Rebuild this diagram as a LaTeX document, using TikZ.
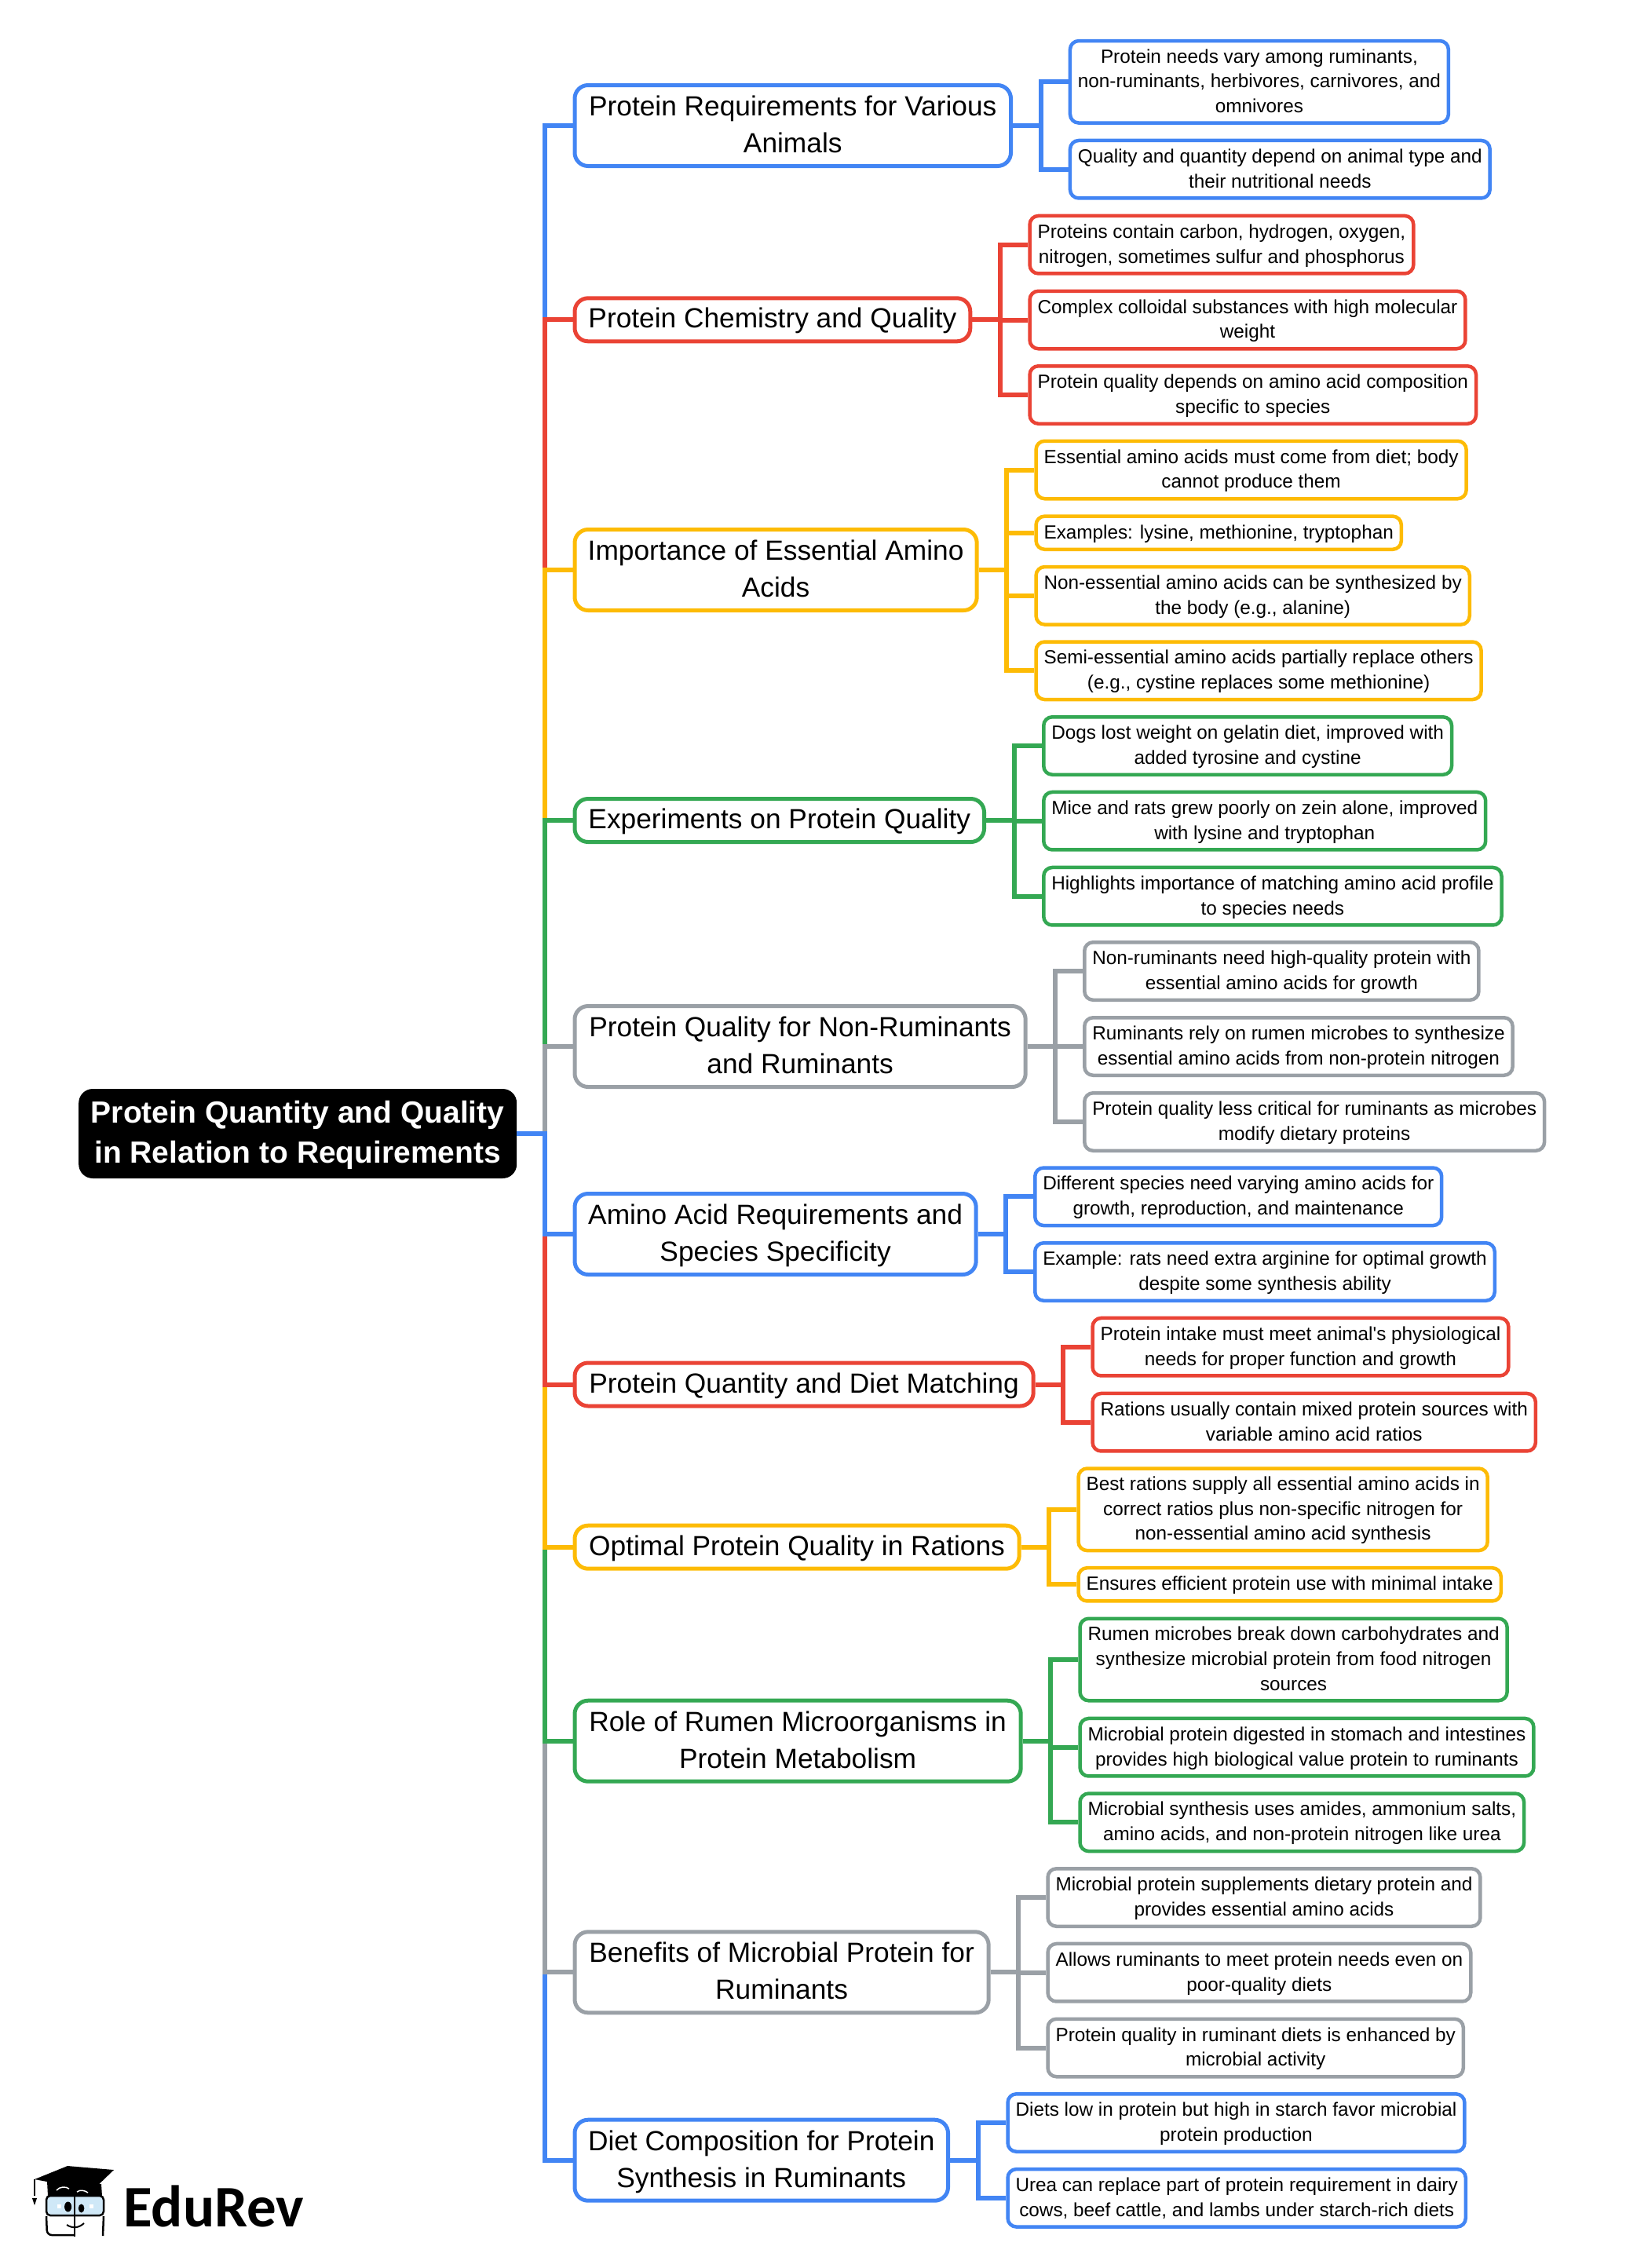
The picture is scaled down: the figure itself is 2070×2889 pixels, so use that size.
\documentclass[tikz,border=0pt]{standalone}
\usepackage{fontspec}
\setmainfont{Liberation Sans}
\newfontfamily\logofont{Carlito}
\definecolor{mapblue}{HTML}{4285F4}
\definecolor{mapred}{HTML}{EA4335}
\definecolor{mapyellow}{HTML}{FDBB05}
\definecolor{mapgreen}{HTML}{34A853}
\definecolor{mapgray}{HTML}{9AA0A6}
\definecolor{lensblue}{HTML}{CFE8F7}
\tikzset{
	rootbox/.style={fill=black, text=white, rounded corners=18pt, anchor=west, align=center, minimum width=558pt, minimum height=114pt, text height=82pt, text depth=8pt, font=\fontsize{39}{51}\selectfont\bfseries},
	branchbox/.style={draw=#1, fill=white, line width=5pt, rounded corners=17pt, anchor=west, align=center, inner xsep=10pt, minimum height=103pt, text height=77pt, text depth=8pt, font=\fontsize{35.3}{47}\selectfont},
	branchone/.style={minimum height=55pt, text height=29pt},
	leafbox/.style={draw=#1, fill=white, line width=4.5pt, rounded corners=11pt, anchor=west, align=center, inner xsep=10pt, minimum height=73.5pt, text height=51.8pt, text depth=5.2pt, font=\fontsize{24.3}{31.7}\selectfont},
	leafone/.style={minimum height=42.2pt, text height=20.1pt},
	leafthree/.style={minimum height=104.5pt, text height=83.5pt},
	link/.style={draw=#1, line width=6pt}
}
\begin{document}
\begin{tikzpicture}[x=1pt, y=-1pt]
		\useasboundingbox (0,0) rectangle (2070,2889);

		% Root
		\node[rootbox] (root) at (100,1444) {Protein Quantity and Quality\\in Relation to Requirements};

		% Branches
		\node[branchbox=mapblue, minimum width=555.5pt] (needs) at (729.5,160) {Protein Requirements for Various\\Animals};
		\node[branchbox=mapred, branchone, minimum width=503.8pt] (chemistry) at (729.5,407.3) {Protein Chemistry and Quality};
		\node[branchbox=mapyellow, minimum width=512.2pt] (essential) at (729.5,726) {Importance of Essential Amino\\Acids};
		\node[branchbox=mapgreen, branchone, minimum width=521.5pt] (experiments) at (729.5,1045) {Experiments on Protein Quality};
		\node[branchbox=mapgray, minimum width=574.2pt] (ruminants) at (729.5,1333) {Protein Quality for Non-Ruminants\\and Ruminants};
		\node[branchbox=mapblue, minimum width=511.2pt] (species) at (729.5,1572) {Amino Acid Requirements and\\Species Specificity};
		\node[branchbox=mapred, branchone, minimum width=584.2pt] (matching) at (729.5,1763.5) {Protein Quantity and Diet Matching};
		\node[branchbox=mapyellow, branchone, minimum width=566.2pt] (rations) at (729.5,1970.7) {Optimal Protein Quality in Rations};
		\node[branchbox=mapgreen, minimum width=568.2pt] (rumen) at (729.5,2217.7) {Role of Rumen Microorganisms in\\Protein Metabolism};
		\node[branchbox=mapgray, minimum width=527.2pt] (benefits) at (729.5,2512.3) {Benefits of Microbial Protein for\\Ruminants};
		\node[branchbox=mapblue, minimum width=475.5pt] (diet) at (729.5,2751.7) {Diet Composition for Protein\\Synthesis in Ruminants};

		% Leaves of the first branch
		\node[leafbox=mapblue, leafthree] (needs_a) at (1360.7,104.3) {Protein needs vary among ruminants,\\non-ruminants, herbivores, carnivores, and\\omnivores};
		\node[leafbox=mapblue] (needs_b) at (1360.7,215.7) {Quality and quantity depend on animal type and\\their nutritional needs};

		% Leaves of the second branch
		\node[leafbox=mapred] (chemistry_a) at (1309.3,311.7) {Proteins contain carbon, hydrogen, oxygen,\\nitrogen, sometimes sulfur and phosphorus};
		\node[leafbox=mapred] (chemistry_b) at (1309.3,407.5) {Complex colloidal substances with high molecular\\weight};
		\node[leafbox=mapred] (chemistry_c) at (1309.3,503) {Protein quality depends on amino acid composition\\specific to species};

		% Leaves of the third branch
		\node[leafbox=mapyellow] (essential_a) at (1317.3,598.5) {Essential amino acids must come from diet; body\\cannot produce them};
		\node[leafbox=mapyellow, leafone] (essential_b) at (1317.3,678.7) {Examples: lysine, methionine, tryptophan};
		\node[leafbox=mapyellow] (essential_c) at (1317.3,758.8) {Non-essential amino acids can be synthesized by\\the body (e.g., alanine)};
		\node[leafbox=mapyellow] (essential_d) at (1317.3,854.3) {Semi-essential amino acids partially replace others\\(e.g., cystine replaces some methionine)};

		% Leaves of the fourth branch
		\node[leafbox=mapgreen] (experiments_a) at (1327,950) {Dogs lost weight on gelatin diet, improved with\\added tyrosine and cystine};
		\node[leafbox=mapgreen] (experiments_b) at (1327,1045.7) {Mice and rats grew poorly on zein alone, improved\\with lysine and tryptophan};
		\node[leafbox=mapgreen] (experiments_c) at (1327,1141.7) {Highlights importance of matching amino acid profile\\to species needs};

		% Leaves of the fifth branch
		\node[leafbox=mapgray] (ruminants_a) at (1379,1237) {Non-ruminants need high-quality protein with\\essential amino acids for growth};
		\node[leafbox=mapgray] (ruminants_b) at (1379,1333) {Ruminants rely on rumen microbes to synthesize\\essential amino acids from non-protein nitrogen};
		\node[leafbox=mapgray] (ruminants_c) at (1379,1429) {Protein quality less critical for ruminants as microbes\\modify dietary proteins};

		% Leaves of the sixth branch
		\node[leafbox=mapblue] (species_a) at (1316,1524.3) {Different species need varying amino acids for\\growth, reproduction, and maintenance};
		\node[leafbox=mapblue] (species_b) at (1316,1620) {Example: rats need extra arginine for optimal growth\\despite some synthesis ability};

		% Leaves of the seventh branch
		\node[leafbox=mapred] (matching_a) at (1389.3,1715.7) {Protein intake must meet animal\textquotesingle s physiological\\needs for proper function and growth};
		\node[leafbox=mapred] (matching_b) at (1389.3,1811.7) {Rations usually contain mixed protein sources with\\variable amino acid ratios};

		% Leaves of the eighth branch
		\node[leafbox=mapyellow, leafthree] (rations_a) at (1371.3,1922.8) {Best rations supply all essential amino acids in\\correct ratios plus non-specific nitrogen for\\non-essential amino acid synthesis};
		\node[leafbox=mapyellow, leafone] (rations_b) at (1371.3,2018.3) {Ensures efficient protein use with minimal intake};

		% Leaves of the ninth branch
		\node[leafbox=mapgreen, leafthree] (rumen_a) at (1373.3,2114) {Rumen microbes break down carbohydrates and\\synthesize microbial protein from food nitrogen\\sources};
		\node[leafbox=mapgreen] (rumen_b) at (1373.3,2225.7) {Microbial protein digested in stomach and intestines\\provides high biological value protein to ruminants};
		\node[leafbox=mapgreen] (rumen_c) at (1373.3,2321.3) {Microbial synthesis uses amides, ammonium salts,\\amino acids, and non-protein nitrogen like urea};

		% Leaves of the tenth branch
		\node[leafbox=mapgray] (benefits_a) at (1332.3,2417) {Microbial protein supplements dietary protein and\\provides essential amino acids};
		\node[leafbox=mapgray] (benefits_b) at (1332.3,2512.7) {Allows ruminants to meet protein needs even on\\poor-quality diets};
		\node[leafbox=mapgray] (benefits_c) at (1332.3,2608.5) {Protein quality in ruminant diets is enhanced by\\microbial activity};

		% Leaves of the last branch
		\node[leafbox=mapblue] (diet_a) at (1281.3,2704) {Diets low in protein but high in starch favor microbial\\protein production};
		\node[leafbox=mapblue] (diet_b) at (1281.3,2799.8) {Urea can replace part of protein requirement in dairy\\cows, beef cattle, and lambs under starch-rich diets};

		% Connect root to branches
		\draw[link=mapblue] (root.east) -- ++(35.7,0) |- (needs.west);
		\draw[link=mapred] (root.east) -- ++(35.7,0) |- (chemistry.west);
		\draw[link=mapyellow] (root.east) -- ++(35.7,0) |- (essential.west);
		\draw[link=mapgreen] (root.east) -- ++(35.7,0) |- (experiments.west);
		\draw[link=mapgray] (root.east) -- ++(35.7,0) |- (ruminants.west);
		\draw[link=mapblue] (root.east) -- ++(35.7,0) |- (diet.west);
		\draw[link=mapgray] (root.east) -- ++(35.7,0) |- (benefits.west);
		\draw[link=mapgreen] (root.east) -- ++(35.7,0) |- (rumen.west);
		\draw[link=mapyellow] (root.east) -- ++(35.7,0) |- (rations.west);
		\draw[link=mapred] (root.east) -- ++(35.7,0) |- (matching.west);
		\draw[link=mapblue] (root.east) -- ++(35.7,0) |- (species.west);

		% Connect branches to leaves
		\draw[link=mapblue] (needs.east) -- ++(35.5,0) |- (needs_a.west);
		\draw[link=mapblue] (needs.east) -- ++(35.5,0) |- (needs_b.west);
		\draw[link=mapred] (chemistry.east) -- ++(35.5,0) |- (chemistry_a.west);
		\draw[link=mapred] (chemistry.east) -- ++(35.5,0) |- (chemistry_b.west);
		\draw[link=mapred] (chemistry.east) -- ++(35.5,0) |- (chemistry_c.west);
		\draw[link=mapyellow] (essential.east) -- ++(35.5,0) |- (essential_a.west);
		\draw[link=mapyellow] (essential.east) -- ++(35.5,0) |- (essential_b.west);
		\draw[link=mapyellow] (essential.east) -- ++(35.5,0) |- (essential_c.west);
		\draw[link=mapyellow] (essential.east) -- ++(35.5,0) |- (essential_d.west);
		\draw[link=mapgreen] (experiments.east) -- ++(35.5,0) |- (experiments_a.west);
		\draw[link=mapgreen] (experiments.east) -- ++(35.5,0) |- (experiments_b.west);
		\draw[link=mapgreen] (experiments.east) -- ++(35.5,0) |- (experiments_c.west);
		\draw[link=mapgray] (ruminants.east) -- ++(35.5,0) |- (ruminants_a.west);
		\draw[link=mapgray] (ruminants.east) -- ++(35.5,0) |- (ruminants_b.west);
		\draw[link=mapgray] (ruminants.east) -- ++(35.5,0) |- (ruminants_c.west);
		\draw[link=mapblue] (species.east) -- ++(35.5,0) |- (species_a.west);
		\draw[link=mapblue] (species.east) -- ++(35.5,0) |- (species_b.west);
		\draw[link=mapred] (matching.east) -- ++(35.5,0) |- (matching_a.west);
		\draw[link=mapred] (matching.east) -- ++(35.5,0) |- (matching_b.west);
		\draw[link=mapyellow] (rations.east) -- ++(35.5,0) |- (rations_a.west);
		\draw[link=mapyellow] (rations.east) -- ++(35.5,0) |- (rations_b.west);
		\draw[link=mapgreen] (rumen.east) -- ++(35.5,0) |- (rumen_a.west);
		\draw[link=mapgreen] (rumen.east) -- ++(35.5,0) |- (rumen_b.west);
		\draw[link=mapgreen] (rumen.east) -- ++(35.5,0) |- (rumen_c.west);
		\draw[link=mapgray] (benefits.east) -- ++(35.5,0) |- (benefits_a.west);
		\draw[link=mapgray] (benefits.east) -- ++(35.5,0) |- (benefits_b.west);
		\draw[link=mapgray] (benefits.east) -- ++(35.5,0) |- (benefits_c.west);
		\draw[link=mapblue] (diet.east) -- ++(35.5,0) |- (diet_a.west);
		\draw[link=mapblue] (diet.east) -- ++(35.5,0) |- (diet_b.west);

		% Logo
		\node[anchor=base west, inner sep=0pt, font=\logofont\bfseries\fontsize{75}{75}\selectfont] (brand) at (157,2836) {EduRev};
		\fill[black] (60,2778) -- (129,2782) -- (130,2797) -- (61,2797) -- cycle;
		\fill[black] (44,2776) -- (86,2759) -- (145,2764) -- (118,2790) -- cycle;
		\draw[line width=1.5pt] (44,2776) -- (44,2797);
		\fill[black] (41,2800) -- (47,2800) -- (44,2809) -- cycle;
		\draw[black, line width=2.5pt, fill=lensblue, rounded corners=5pt] (59,2797) rectangle (132,2822);
		\draw[black, line width=2.5pt, rounded corners=6pt] (95,2847) -- (60,2847) -- (59,2823);
		\draw[black, line width=2.5pt, rounded corners=6pt] (131,2848) -- (132,2823);
		\draw[black, line width=2.5pt] (95,2797) -- (95,2849);
		\fill[black] (86.6,2811) ellipse (4.5 and 6.5);
		\fill[black] (103.6,2813) ellipse (3.8 and 5.5);
		\draw[black, line width=2pt] (85,2834) .. controls (93,2839) and (100,2838) .. (107,2832);
		\fill[white] (73,2808) rectangle (78,2813);
		\fill[white] (114,2808) rectangle (119,2813);
		\draw[white, line width=1.5pt] (72,2790) .. controls (76,2785) and (84,2785) .. (88,2788);
		\draw[white, line width=1.5pt] (98,2792) .. controls (102,2789) and (108,2790) .. (112,2793);
\end{tikzpicture}
\end{document}
